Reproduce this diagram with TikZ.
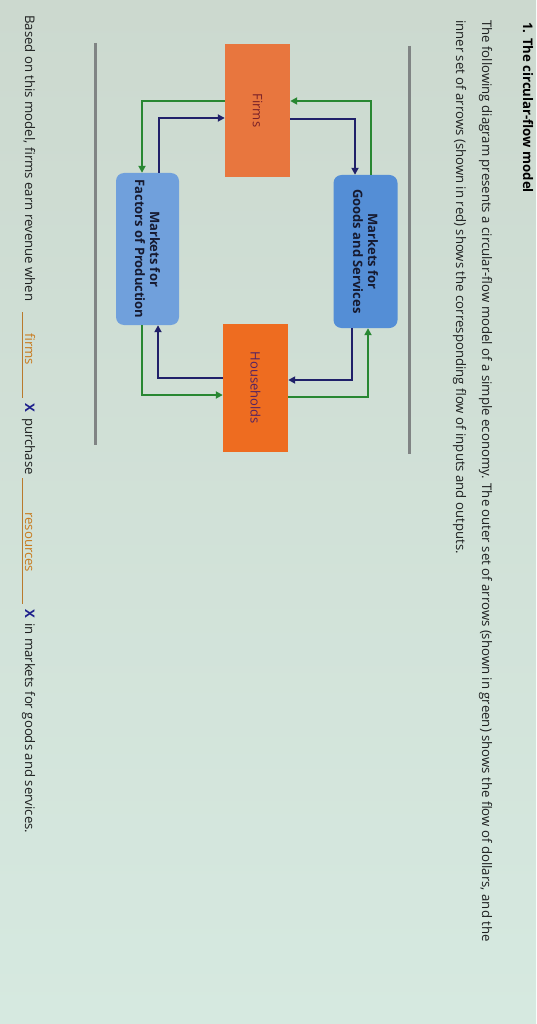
\documentclass[tikz,border=0pt]{standalone}
\usepackage{fontspec}
\setmainfont{Open Sans}
\usetikzlibrary{arrows.meta}
\definecolor{bgtop}{RGB}{204,217,207}
\definecolor{bgbot}{RGB}{214,233,224}
\definecolor{firmfill}{RGB}{232,118,62}
\definecolor{hhfill}{RGB}{238,108,32}
\definecolor{goodsfill}{RGB}{84,142,214}
\definecolor{factfill}{RGB}{112,160,220}
\definecolor{flowgreen}{RGB}{40,135,50}
\definecolor{flowblue}{RGB}{32,32,105}
\definecolor{rulegray}{RGB}{128,132,132}
\definecolor{firmtext}{RGB}{120,32,40}
\definecolor{hhtext}{RGB}{82,34,100}
\definecolor{mkttext}{RGB}{22,26,48}
\definecolor{bodytext}{RGB}{30,32,32}
\definecolor{ansline}{RGB}{185,122,45}
\definecolor{anstext}{RGB}{200,122,30}
\definecolor{xblue}{RGB}{30,32,140}
\tikzset{
  txt/.style={rotate=-90, anchor=base west, inner sep=0pt, text=bodytext,
    font=\fontsize{13.2}{15}\selectfont},
  orangebox/.style={rotate=-90, draw=none, inner sep=0pt,
    minimum width=#1, minimum height=65pt, font=\fontsize{13}{15}\selectfont},
  mktbox/.style={rotate=-90, rounded corners=8pt, inner sep=0pt,
    minimum width=153pt, minimum height=64pt, align=center, text=mkttext,
    font=\bfseries\fontsize{13}{15}\selectfont},
  gflow/.style={draw=flowgreen, line width=2.2pt, -{Triangle[length=7pt,width=7pt]}},
  bflow/.style={draw=flowblue, line width=2.5pt, -{Triangle[length=7pt,width=7pt]}},
  grule/.style={draw=rulegray, line width=3pt},
  ansrule/.style={draw=ansline, line width=0.9pt},
}
\begin{document}
\begin{tikzpicture}[x=1pt,y=-1pt]
\shade[top color=bgtop, bottom color=bgbot] (0,0) rectangle (536,1024);
\useasboundingbox (0,0) rectangle (536,1024);
% header text
\node[txt, font=\bfseries\fontsize{13.2}{15}\selectfont, text=black] (title) at (523,22) {1. The circular-flow model};
\node[txt] (line1) at (482,20) {The following diagram presents a circular-flow model of a simple economy. The outer set of arrows (shown in green) shows the flow of dollars, and the};
\node[txt] (line2) at (456,20) {inner set of arrows (shown in red) shows the corresponding flow of inputs and outputs.};
% rules
\draw[grule] (409,46) -- (409,454);
\draw[grule] (95,43) -- (95,445);
% boxes
\node[orangebox=133pt, fill=firmfill, text=firmtext] (Firms) at (257.5,110.5) {Firms};
\node[orangebox=128pt, fill=hhfill, text=hhtext] (Households) at (255.5,388) {Households};
\node[mktbox, fill=goodsfill] (Goods) at (365.5,251.5) {Markets for\\Goods and Services};
\node[mktbox, fill=factfill, minimum width=152pt, minimum height=63pt] (Factors) at (147.5,249) {Markets for\\Factors of Production};
% flows
\draw[gflow] (Firms.south |- 0,101) -| (Factors.west -| 142,0);
\draw[bflow] (Factors.west -| 159,0) |- (Firms.south |- 0,118);
\draw[bflow] (Firms.north |- 0,119) -| (Goods.west -| 355,0);
\draw[gflow] (Goods.west -| 371,0) |- (Firms.north |- 0,101);
\draw[bflow] (Goods.east -| 352,0) |- (Households.north |- 0,380);
\draw[gflow] (Households.north |- 0,397) -| (Goods.east -| 368,0);
\draw[bflow] (Households.south |- 0,378) -| (Factors.east -| 158,0);
\draw[gflow] (Factors.east -| 142,0) |- (Households.south |- 0,395);
% question line
\node[txt] (q1) at (25,15) {Based on this model, firms earn revenue when};
\draw[ansrule] (22,312) -- (22,398);
\node[txt, text=anstext] (a1) at (25,333) {firms};
\node[txt, text=xblue, font=\bfseries\fontsize{13.2}{15}\selectfont] (x1) at (25,403) {X};
\node[txt] (q2) at (25,418) {purchase};
\draw[ansrule] (22,478) -- (22,604);
\node[txt, text=anstext] (a2) at (25,512) {resources};
\node[txt, text=xblue, font=\bfseries\fontsize{13.2}{15}\selectfont] (x2) at (25,609) {X};
\node[txt] (q3) at (25,623) {in markets for goods and services.};
\end{tikzpicture}
\end{document}
